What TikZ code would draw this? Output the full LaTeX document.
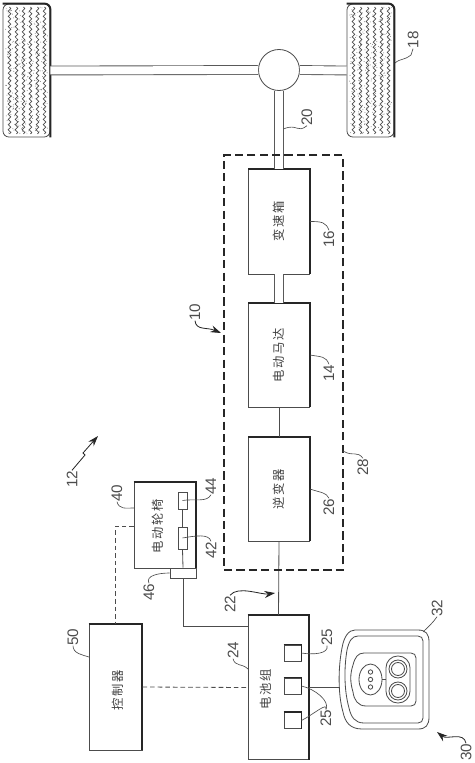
\documentclass[tikz,border=0pt]{standalone}
\usepackage{fontspec}
\setmainfont{Liberation Sans}
\newfontfamily\cjk[LetterSpace=13]{Noto Sans CJK SC}
\usepackage{tikz}
\usetikzlibrary{arrows.meta,decorations.pathmorphing,shapes.geometric}

\tikzset{
  thin line/.style={draw=black!70,line width=.7pt},
  heavy/.style={draw=black!85,line width=1.7pt},
  blocktext/.style={rotate=90,inner sep=0pt,font=\cjk\fontsize{10.5}{11}\selectfont,text=black!75},
  blockbox/.style={thin line,rectangle,blocktext},
  tirebox/.style={thin line,rectangle,rounded corners=5pt,minimum width=1.41cm,minimum height=3.99cm},
  tread/.style={draw=black!70,line width=.6pt,decorate,decoration={snake,amplitude=1.1pt,segment length=4.4pt}},
  shaft/.style={draw=black!65,line width=.75pt,double=white,double distance=.24cm},
  leader/.style={draw=black!70,line width=.55pt},
  reflabel/.style={rotate=90,inner sep=0pt,text=black!70,font=\fontsize{13}{13}\selectfont},
  pointer/.style={draw=black!85,line width=.7pt,-{Stealth[length=9pt,width=6pt]}},
  signal/.style={draw=black!70,line width=.7pt,dash pattern=on 4pt off 2.5pt},
}

\begin{document}
\begin{tikzpicture}[x=.03cm,y=-.03cm]
  \useasboundingbox (0,0) rectangle (474,763);

  % wheels and axle
  \node[tirebox] (lefttire) at (26.5,70.5) {};
  \node[tirebox] (righttire) at (370.5,70.5) {};
  \node[thin line,circle,minimum size=1.23cm,inner sep=0pt] (diff) at (279,70) {};
  \pgfmathsetseed{18}
  \foreach \cx in {26.5,370.5}{
    \foreach \dx in {-17,-10,-3,4,11,18}
      \draw[tread] ({\cx+\dx},7) -- ({\cx+\dx},134);
    \foreach \i in {1,...,260}
      \fill[black!50] ({\cx-21+42*rnd},{7+127*rnd}) circle (.42pt);
  }
  \foreach \tire in {lefttire,righttire}
    \draw[heavy,rounded corners=5pt] (\tire.north west) -- (\tire.north east) -- (\tire.south east);

  % drive blocks
  \node[blockbox,minimum width=3.15cm,minimum height=1.83cm] (gearbox) at (279,221.5) {变速箱};
  \node[blockbox,minimum width=3.12cm,minimum height=1.83cm] (motor) at (279,355) {电动马达};
  \node[blockbox,minimum width=3.12cm,minimum height=1.83cm] (inverter) at (279,489) {逆变器};
  \node[blockbox,minimum width=4.32cm,minimum height=1.83cm] (battery) at (278.5,687.5) {};
  \node[blocktext] (batterytext) at (266,689) {电池组};
  \node[blockbox,minimum width=3.78cm,minimum height=1.59cm] (controller) at (115.5,687) {};
  \node[blocktext] (controllertext) at (118,690) {控制器};

  % wheelchair
  \node[blockbox,minimum width=2.58cm,minimum height=1.86cm] (chair) at (165,525) {};
  \node[blocktext] (chairtext) at (158,526) {电动轮椅};
  \node[thin line,rectangle,minimum width=.27cm,minimum height=.51cm,inner sep=0pt] (sensorb) at (182.5,500.5) {};
  \node[thin line,rectangle,minimum width=.27cm,minimum height=.66cm,inner sep=0pt] (sensora) at (182.5,538) {};
  \node[thin line,rectangle,minimum width=.78cm,minimum height=.3cm,inner sep=0pt] (port) at (183,573) {};

  % cells
  \foreach \name/\yy in {cella/653,cellb/686,cellc/720.5}{
    \node[thin line,rectangle,minimum width=.51cm,minimum height=.48cm,inner sep=0pt] (\name) at (292.5,\yy) {};
    \draw[heavy,line width=1.2pt] (\name.north west) -- (\name.north east) -- (\name.south east);
  }

  \foreach \name in {gearbox,motor,inverter,battery,controller,chair}
    \draw[heavy] (\name.north east) -- (\name.south east) -- (\name.south west);

  % connections
  \draw[shaft] (lefttire.east) -- (diff.west);
  \draw[shaft] (diff.east) -- (righttire.west);
  \draw[shaft] (diff.south) -- (gearbox.east);
  \draw[shaft] (gearbox.west) -- (motor.east);
  \draw[thin line] (motor.west) -- (inverter.east);
  \draw[thin line] (inverter.west) -- (battery.east);
  \draw[thin line] (sensorb.south) -- (sensora.north);
  \draw[thin line] (sensora.south) -- (port.north);
  \coordinate (batteryin) at (248,626.5);
  \draw[thin line] (port.south) |- (batteryin);
  \coordinate (chairout) at (134,526);
  \draw[signal] (chairout) -| (controller.east);
  \draw[signal] (controller.south) -- (battery.north);

  % dashed enclosure
  \node[heavy,rectangle,dash pattern=on 7pt off 3.6pt,minimum width=3.56cm,minimum height=12.45cm,inner sep=0pt] (drive) at (283.3,362.5) {};

  % charger
  \draw[thin line] (355,630) -- (418,630) .. controls (426,630) and (429,634) .. (429,642) -- (429,717)
    .. controls (429,725) and (426,729) .. (418,729) -- (362,729)
    .. controls (350,729) and (345,722) .. (343,712) .. controls (338,695) and (338,668) .. (342,648)
    .. controls (344,636) and (349,630) .. (355,630) -- cycle;
  \draw[thin line] (358,636) -- (418,636) .. controls (421,636) and (423,638) .. (423,641) -- (423,718)
    .. controls (423,721) and (421,723) .. (418,723) -- (364,723)
    .. controls (355,723) and (351,717) .. (349,708) .. controls (344,690) and (344,668) .. (347,650)
    .. controls (349,641) and (352,636) .. (358,636) -- cycle;
  \draw[thin line] (364,653) -- (411,653) .. controls (414,653) and (416,655) .. (416,658) -- (416,701)
    .. controls (416,704) and (414,706) .. (411,706) -- (366,706)
    .. controls (358,706) and (354,700) .. (353,692) .. controls (350,682) and (350,674) .. (353,665)
    .. controls (355,657) and (358,653) .. (364,653) -- cycle;
  \coordinate (chargerin) at (339.5,687);
  \draw[thin line] (battery.south |- chargerin) -- (chargerin);
  \node[thin line,ellipse,minimum width=.69cm,minimum height=.93cm,inner sep=0pt] (plugpad) at (370.5,679.5) {};
  \node[thin line,rectangle,rounded corners=10pt,minimum width=.72cm,minimum height=1.41cm,inner sep=0pt] (pinhousing) at (398,679.5) {};
  \foreach \yy in {672,679.5,687}
    \draw[thin line] (370.5,\yy) circle (2.2);
  \foreach \yy in {669,691}{
    \draw[thin line] (398,\yy) circle (9);
    \draw[thin line] (398,\yy) circle (6.5);
  }
  \draw[thin line] (plugpad.east) -- (pinhousing.west);

  % reference numbers
  \node[reflabel] (n18) at (413,40) {18};
  \node[reflabel] (n20) at (307,117) {20};
  \node[reflabel] (n16) at (329,239) {16};
  \node[reflabel] (n14) at (329,373) {14};
  \node[reflabel] (n26) at (329,507) {26};
  \node[reflabel] (n28) at (363,467) {28};
  \node[reflabel] (n44) at (211,486) {44};
  \node[reflabel] (n42) at (211,550) {42};
  \node[reflabel] (n40) at (117,493) {40};
  \node[reflabel] (n46) at (149,592) {46};
  \node[reflabel] (n50) at (73,637) {50};
  \node[reflabel] (n24) at (233,650) {24};
  \node[reflabel] (n25a) at (327,637) {25};
  \node[reflabel] (n25b) at (326,718) {25};
  \node[reflabel] (n32) at (437,608) {32};
  \node[reflabel] (n30) at (466,752) {30};
  \node[reflabel] (n12) at (72,479) {12};
  \node[reflabel] (n22) at (230,604) {22};
  \node[reflabel] (n10) at (195,312) {10};

  % leaders
  \coordinate (shaftside) at (283.5,129);
  \coordinate (tireside) at (395,63);
  \coordinate (driveside) at (343,451);
  \coordinate (chairside) at (134,508);
  \coordinate (ctrlside) at (89,657);
  \coordinate (packside) at (248,669);
  \coordinate (chargerside) at (423,632);
  \draw[leader] (tireside) .. controls +(6,-5) and +(-8,6) .. (411,55) -- (n18.west);
  \draw[leader] (shaftside) .. controls +(14,-6) and +(-10,8) .. (n20.west);
  \draw[leader] (gearbox.south) .. controls +(12,0) and +(-3,-8) .. (n16.east);
  \draw[leader] (motor.south) .. controls +(12,2) and +(-3,-8) .. (n14.east);
  \draw[leader] (inverter.south) .. controls +(12,4) and +(-3,-6) .. (n26.east);
  \draw[leader] (driveside) .. controls +(10,6) and +(-6,-8) .. (n28.east);
  \draw[leader] (sensorb.center) .. controls +(12,-2) and +(-4,8) .. (n44.west);
  \draw[leader] (sensora.center) .. controls +(12,-2) and +(-2,-8) .. (n42.east);
  \draw[leader] (chairside) .. controls +(-8,0) and +(2,8) .. (n40.west);
  \draw[leader] (port.west) .. controls +(-10,0) and +(-4,-8) .. (n46.east);
  \draw[leader] (ctrlside) .. controls +(-6,-2) and +(0,8) .. (n50.west);
  \draw[leader] (packside) .. controls +(-6,-6) and +(2,8) .. (n24.west);
  \draw[leader] (cella.east) .. controls +(12,2) and +(2,8) .. (n25a.west);
  \draw[leader] (cellb.east) .. controls +(14,3) and +(4,-8) .. (n25b.east);
  \draw[leader] (cellc.east) .. controls +(12,-6) and +(2,-8) .. (n25b.east);
  \draw[leader] (chargerside) .. controls +(6,-6) and +(-4,6) .. (n32.west);

  % system arrows
  \coordinate (arrow12) at (98,436);
  \coordinate (arrow10) at (221,333);
  \coordinate (arrow22) at (275,593);
  \coordinate (arrow30) at (437,732);
  \draw[pointer] (n12.east) -- (85,455) -- (83,453) -- (arrow12);
  \draw[pointer] (n10.west) .. controls +(1,10) and +(-14,-6) .. (arrow10);
  \draw[pointer] (n22.east) .. controls +(8,-10) and +(-14,2) .. (arrow22);
  \draw[pointer] (n30.east) .. controls +(-2,-12) and +(10,8) .. (arrow30);
\end{tikzpicture}
\end{document}
